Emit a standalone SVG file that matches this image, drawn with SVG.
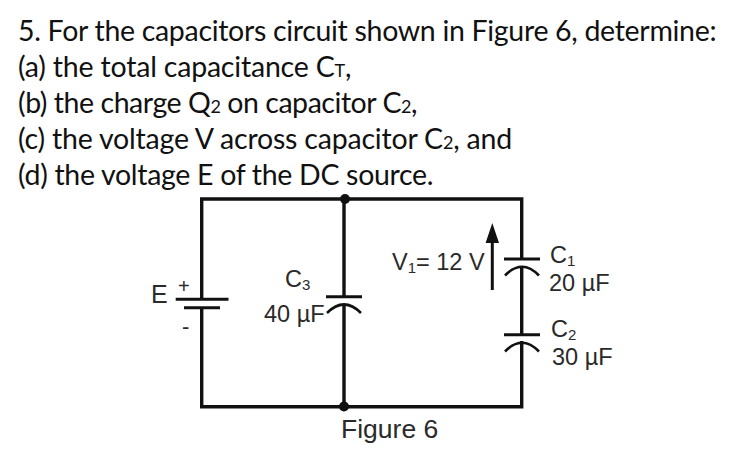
<svg xmlns="http://www.w3.org/2000/svg" width="745" height="469" viewBox="0 0 745 469">
<style>
.q{font-family:"Lato","Noto Sans",sans-serif;font-size:28.5px;fill:#111}
.q tspan{font-size:18px}
.l{font-family:"Liberation Sans",Arial,sans-serif;font-size:23.5px;fill:#2a2a2a}
.s{font-size:15px}
.w{fill:none;stroke:#111;stroke-width:3.4}
.p{fill:none;stroke:#111;stroke-width:3}
.a{fill:none;stroke:#111;stroke-width:2.6}
.d{fill:#111}
</style>
<rect width="745" height="469" fill="#fff"/>
<g id="question">
<text class="q" x="18" y="40.500" letter-spacing="-0.31">5. For the capacitors circuit shown in Figure 6, determine:</text>
<text class="q" x="18" y="76.500" letter-spacing="-0.2">(a) the total capacitance C<tspan>T</tspan>,</text>
<text class="q" x="18" y="113" letter-spacing="-0.45">(b) the charge Q<tspan>2</tspan> on capacitor C<tspan>2</tspan>,</text>
<text class="q" x="18" y="148.500" letter-spacing="-0.2">(c) the voltage V across capacitor C<tspan>2</tspan>, and</text>
<text class="q" x="18" y="184.500" letter-spacing="-0.31">(d) the voltage E of the DC source.</text>
</g>
<g id="connectors">
<path class="w" d="M201.700 299V199H521.700V259M521.700 266V334.700M521.700 341V406.700H201.700V307.700"/>
<path class="w" d="M344 199V296.700M344 304V406.700"/>
</g>
<g id="node-top"><circle class="d" cx="345" cy="199" r="5"/></g>
<g id="node-bottom"><circle class="d" cx="344" cy="406.500" r="5"/></g>
<g id="source-E">
<path class="p" d="M175.700 299.300H228.500M184 307.700H220"/>
<text class="l" x="151" y="303" style="font-size:25px">E</text>
<text class="l" x="178" y="293" style="font-size:20px">+</text>
<text class="l" x="182" y="334" style="font-size:22px">-</text>
</g>
<g id="C3">
<path class="p" d="M326 296.700H362"/>
<path class="a" d="M327 313Q344 296 361 313"/>
<text class="l" x="285" y="287">C<tspan class="s" dy="3">3</tspan></text>
<text class="l" x="264" y="322">40 µF</text>
</g>
<g id="C1">
<path class="p" d="M504 259H540"/>
<path class="a" d="M505 275.500Q522 258 539 275.500"/>
<text class="l" x="550" y="263">C<tspan class="s" dy="3">1</tspan></text>
<text class="l" x="549" y="291">20 µF</text>
</g>
<g id="C2">
<path class="p" d="M504 334.700H540"/>
<path class="a" d="M505 351.500Q522 334 539 351.500"/>
<text class="l" x="551" y="337">C<tspan class="s" dy="3">2</tspan></text>
<text class="l" x="552" y="365">30 µF</text>
</g>
<g id="V1">
<path class="w" d="M492.300 290V240" style="stroke-width:3"/>
<path class="d" d="M492.300 223L499 243H485.600Z"/>
<text class="l" x="392" y="270">V<tspan class="s" dy="3">1</tspan><tspan dy="-3">= 12 V</tspan></text>
</g>
<text class="l" x="341" y="438" style="font-size:26.500px">Figure 6</text>
</svg>
